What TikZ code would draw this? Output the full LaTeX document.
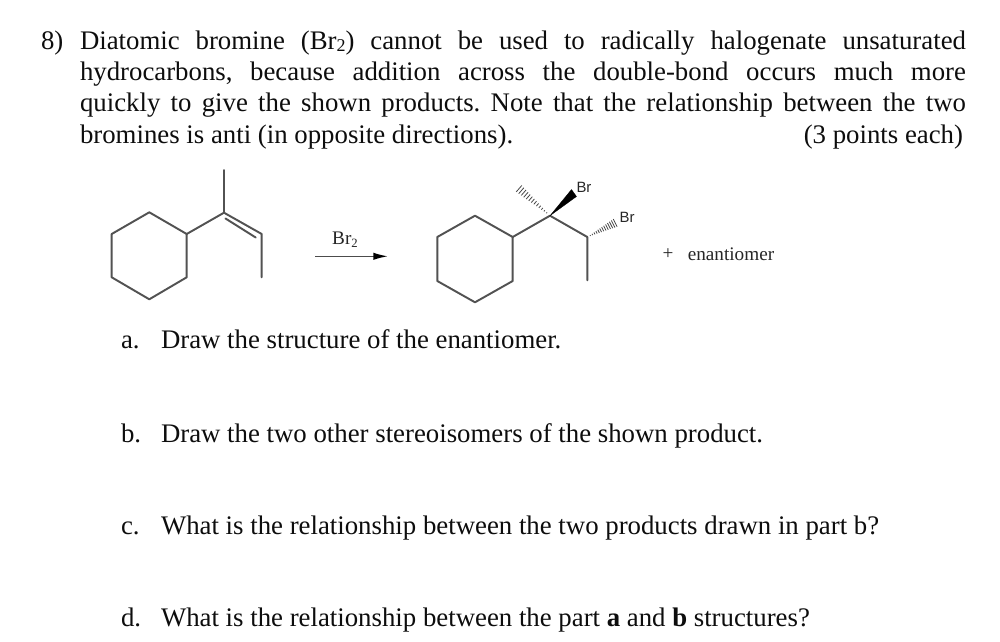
\documentclass[tikz,border=0pt]{standalone}
\usepackage{fontspec}
\setmainfont{Liberation Serif}
\newfontfamily\brfont{Liberation Sans}
\usetikzlibrary{arrows.meta,calc}
\frenchspacing
\tikzset{
  x=0.75pt,y=-0.75pt,
  bond/.style={draw=black!68,line width=1.45pt,line cap=round,line join=round},
  wedgebond/.style={fill=black,draw=black,line width=0.2pt},
  hashbond/.style={draw=black!72,line width=0.6pt},
  txt/.style={inner sep=0pt,outer sep=0pt,anchor=base west,text=black!95,font=\fontsize{20.1pt}{24pt}\selectfont},
  small/.style={inner sep=0pt,text=black!85,font=\fontsize{14.4pt}{16pt}\selectfont},
  atom/.style={inner sep=0pt,text=black!85,font=\brfont\fontsize{11.2pt}{12pt}\selectfont},
}
\newcommand{\jline}[1]{\makebox[664.5pt][s]{#1}}
\newcommand{\hashwedge}[3]{%
  \foreach \t in {0.10,0.17,...,1.0}{
    \coordinate (hc) at ($(#1)!\t!(#2)$);
    \pgfmathsetmacro{\hw}{\t*#3}
    \draw[hashbond] ($(hc)!\hw pt!90:(#2)$) -- ($(hc)!\hw pt!-90:(#2)$);
  }}
\begin{document}
\begin{tikzpicture}
\useasboundingbox (0,0) rectangle (1000,642);
\fill[white] (0,0) rectangle (1000,642);

\node[txt] (n8) at (41,50) {8)};
\node[txt] (l1) at (80,50) {\jline{Diatomic bromine (Br\raisebox{-1pt}{\fontsize{13.5pt}{14pt}\selectfont 2}) cannot be used to radically halogenate unsaturated}};
\node[txt] (l2) at (80,81) {\jline{hydrocarbons, because addition across the double-bond occurs much more}};
\node[txt] (l3) at (80,112) {\jline{quickly to give the shown products. Note that the relationship between the two}};
\node[txt] (l4) at (80,143) {bromines is anti (in opposite directions).};
\node[txt,anchor=base east] (pts) at (963,143) {(3 points each)};

% left molecule
\foreach \n/\x/\y in {a1/149.3/212.3,a2/186.7/234,a3/186.7/277.3,a4/149.3/299.3,a5/111.7/277.3,a6/111.7/234,
  a7/224/212.7,a8/224/170,a9/261.7/234,a10/261.7/277.3,a11/225.5/218.5,a12/255.7/237.5}
  \coordinate (\n) at (\x,\y);
\draw[bond] (a1)--(a2)--(a3)--(a4)--(a5)--(a6)--cycle;
\draw[bond] (a2)--(a7)--(a9)--(a10);
\draw[bond] (a7)--(a8);
\draw[bond] (a11)--(a12);

% arrow
\coordinate (ar1) at (315,256.3);
\coordinate (ar2) at (388,256.3);
\draw[draw=black!70,line width=1.1pt,-{Latex[length=11pt,width=5.5pt,black]}] (ar1)--(ar2);
\node[small] (reag) at (345,240) {Br\raisebox{-2.5pt}{\fontsize{9.5pt}{10pt}\selectfont 2}};

% right molecule
\foreach \n/\x/\y in {b1/475/215.7,b2/512.7/237,b3/512.7/281,b4/475/302.3,b5/437.3/281,b6/437.3/237,
  b7/550/215.7,b8/587.3/237,b9/587.3/280.3,b10/517/187,b12/617/222,b13/576.5/196.5,b14/571.5/189.5}
  \coordinate (\n) at (\x,\y);
\draw[bond] (b1)--(b2)--(b3)--(b4)--(b5)--(b6)--cycle;
\draw[bond] (b2)--(b7)--(b8)--(b9);
\path[wedgebond] (b7)--(b13)--(b14)--cycle;
\hashwedge{b7}{b10}{3.4}
\hashwedge{b8}{b12}{3.4}
\node[atom] (br1) at (584,187) {Br};
\node[atom] (br2) at (627,217) {Br};

\node[small] (plus) at (668,254) {+};
\node[small] (enant) at (731,254) {enantiomer};

\node[txt] (qa) at (121,348) {a.};
\node[txt] (qat) at (161,348) {Draw the structure of the enantiomer.};
\node[txt] (qb) at (121,442) {b.};
\node[txt] (qbt) at (161,442) {Draw the two other stereoisomers of the shown product.};
\node[txt] (qc) at (121,534) {c.};
\node[txt] (qct) at (161,534) {What is the relationship between the two products drawn in part b?};
\node[txt] (qd) at (121,626) {d.};
\node[txt] (qdt) at (161,626) {What is the relationship between the part \textbf{a} and \textbf{b} structures?};
\end{tikzpicture}
\end{document}
